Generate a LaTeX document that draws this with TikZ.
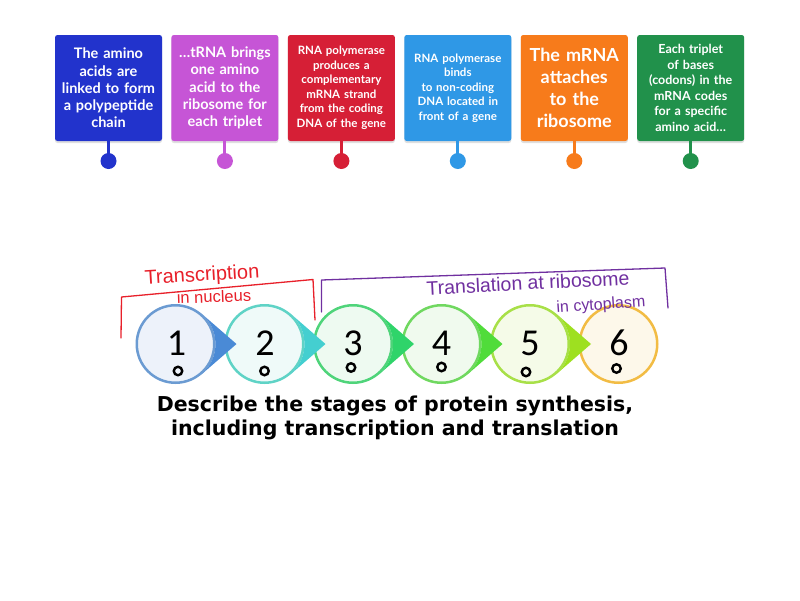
\documentclass[tikz,border=0pt]{standalone}
\usepackage{fontspec}
\setmainfont{Lato}
\newfontfamily\numfont{Carlito}
\newfontfamily\titlefont{DejaVu Sans}
\newfontfamily\handfont{Liberation Sans}
\usetikzlibrary{shadows,calc}
\definecolor{bA}{HTML}{2233CC}
\definecolor{bB}{HTML}{C655D6}
\definecolor{bC}{HTML}{D61F36}
\definecolor{bD}{HTML}{2F98E6}
\definecolor{bE}{HTML}{F77B1B}
\definecolor{bF}{HTML}{21914B}
\definecolor{cAd}{HTML}{6B9BD2}\definecolor{cAf}{HTML}{EDF2FA}\definecolor{cAt}{HTML}{4A8AD6}
\definecolor{cBd}{HTML}{5FD3C6}\definecolor{cBf}{HTML}{EFFAF9}\definecolor{cBt}{HTML}{44CFD0}
\definecolor{cCd}{HTML}{4FD47A}\definecolor{cCf}{HTML}{EEFAF1}\definecolor{cCt}{HTML}{2FD46A}
\definecolor{cDd}{HTML}{70D860}\definecolor{cDf}{HTML}{F0FAEE}\definecolor{cDt}{HTML}{50DC3A}
\definecolor{cEd}{HTML}{A8E048}\definecolor{cEf}{HTML}{F5FBE8}\definecolor{cEt}{HTML}{9EE020}
\definecolor{cFd}{HTML}{F2BC44}\definecolor{cFf}{HTML}{FDF8EA}
\definecolor{penred}{HTML}{E8202A}
\definecolor{penpurple}{HTML}{7030A0}
\begin{document}
\begin{tikzpicture}[x=1pt,y=-1pt,
  cardbox/.style={rounded corners=2.5pt, minimum width=107pt, minimum height=106pt,
    inner sep=2pt, text width=103pt, align=center, text=white,
    drop shadow={shadow xshift=0pt, shadow yshift=-2pt, opacity=0.25}},
  pin/.style={circle, inner sep=0pt, minimum size=16pt},
  stem/.style={line width=3pt},
  stage/.style={circle, minimum size=77.5pt, line width=2.5pt, inner sep=0pt},
  numtext/.style={font=\numfont\fontsize{38}{38}\selectfont, inner sep=0pt},
  ring/.style={circle, draw=black, line width=2.4pt, minimum size=8.5pt, inner sep=0pt},
  pen/.style={line width=1.3pt, line join=round, line cap=round},
  hand/.style={inner sep=0pt}
]
\fill[white] (0,0) rectangle (800,600);
\useasboundingbox (0,0) rectangle (800,600);

% cards
\node[cardbox, fill=bA, font=\bfseries\fontsize{14.5}{17.3}\selectfont] (b1) at (108.5,88) {The amino\\acids are\\linked to form\\a polypeptide\\chain};
\node[cardbox, fill=bB, font=\bfseries\fontsize{14.5}{17.3}\selectfont] (b2) at (224.9,88) {…tRNA brings\\one amino\\acid to the\\ribosome for\\each triplet};
\node[cardbox, fill=bC, font=\bfseries\fontsize{11.5}{14.5}\selectfont] (b3) at (341.4,88) {RNA polymerase\\produces a\\complementary\\mRNA strand\\from the coding\\DNA of the gene};
\node[cardbox, fill=bD, font=\bfseries\fontsize{11.5}{14.4}\selectfont] (b4) at (457.8,88) {RNA polymerase\\binds\\to non-coding\\DNA located in\\front of a gene};
\node[cardbox, fill=bE, font=\bfseries\fontsize{18}{22}\selectfont] (b5) at (574.3,88) {The mRNA\\attaches\\to the\\ribosome};
\node[cardbox, fill=bF, font=\bfseries\fontsize{12.5}{15.6}\selectfont] (b6) at (690.7,88) {Each triplet\\of bases\\(codons) in the\\mRNA codes\\for a specific\\amino acid…};

% pins
\foreach \i/\c/\x in {1/bA/108.5,2/bB/224.9,3/bC/341.4,4/bD/457.8,5/bE/574.3,6/bF/690.7}{
  \node[pin, fill=\c] (d\i) at (\x,161) {};
  \draw[stem, draw=\c] (b\i.south) -- (d\i.center);
}

% stage circles
\node[stage, draw=cAd, fill=cAf] (c1) at (175.5,344) {};
\node[stage, draw=cBd, fill=cBf] (c2) at (264.5,344) {};
\node[stage, draw=cCd, fill=cCf] (c3) at (353,344) {};
\node[stage, draw=cDd, fill=cDf] (c4) at (441.5,344) {};
\node[stage, draw=cEd, fill=cEf] (c5) at (530,344) {};
\node[stage, draw=cFd, fill=cFf] (c6) at (618.5,344) {};

% pointers
\foreach \i/\t in {1/cAt,2/cBt,3/cCt,4/cDt,5/cEt}{
  \fill[\t] ($(c\i.center)+(49.6:40)$) arc[start angle=49.6, end angle=-49.6, radius=40]
     -- ($(c\i.center)+(61,0)$) -- cycle;
}

% numbers and rings
\node[numtext] (n1) at (176.5,343) {1};
\node[numtext] (n2) at (265,343) {2};
\node[numtext] (n3) at (353,343) {3};
\node[numtext] (n4) at (441.5,343) {4};
\node[numtext] (n5) at (530,343) {5};
\node[numtext] (n6) at (619,343) {6};
\node[ring] (t1) at (178,371) {};
\node[ring] (t2) at (264.5,371) {};
\node[ring] (t3) at (351,367.5) {};
\node[ring] (t4) at (441.5,367) {};
\node[ring] (t5) at (526,372) {};
\node[ring] (t6) at (616.5,368.5) {};

% handwritten annotations
\coordinate (ra) at (121,338);
\coordinate (rb) at (121.5,297);
\coordinate (rc) at (313,279.5);
\coordinate (rd) at (315,320);
\draw[pen, penred] (ra) -- (rb) -- (rc) -- (rd);
\node[hand, text=penred, rotate=3.5, font=\handfont\fontsize{20}{20}\selectfont] (tx1) at (202,276) {Transcription};
\node[hand, text=penred, rotate=2, font=\handfont\fontsize{16.5}{16.5}\selectfont] (tx2) at (214,296.5) {in nucleus};

\coordinate (pa) at (321.5,312);
\coordinate (pb) at (321.5,280);
\coordinate (pc) at (665,268);
\coordinate (pd) at (668,308);
\draw[pen, penpurple] (pa) -- (pb) -- (pc) -- (pd);
\node[hand, text=penpurple, rotate=3, font=\handfont\fontsize{19.5}{19.5}\selectfont] (tx3) at (528,283) {Translation at ribosome};
\node[hand, text=penpurple, rotate=4, font=\handfont\fontsize{16}{16}\selectfont] (tx4) at (601,305.5) {in cytoplasm};

% title
\node[align=center, inner sep=0pt, font=\titlefont\bfseries\fontsize{20.5}{23.5}\selectfont] (title) at (395,418) {Describe the stages of protein synthesis,\\including transcription and translation};
\end{tikzpicture}
\end{document}
